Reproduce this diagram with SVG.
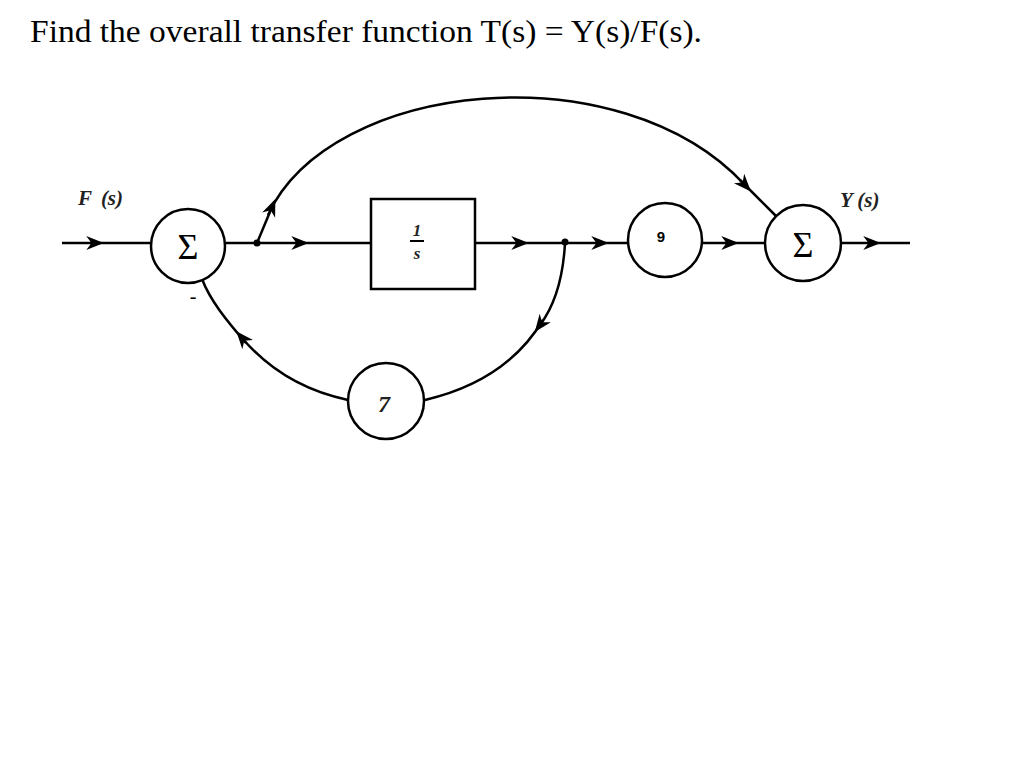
<svg xmlns="http://www.w3.org/2000/svg" width="1024" height="766" viewBox="0 0 1024 766">
<style>
.n{fill:#fff;stroke:#000;stroke-width:2.5}
.c{fill:none;stroke:#000;stroke-width:2.5}
.t{font-family:"Liberation Serif",serif;fill:#000}
.s{font-family:"Liberation Serif",serif;font-style:italic;font-weight:bold;fill:#222}
</style>
<defs>
<marker id="a" viewBox="0 0 10 10" refX="5" refY="5" markerWidth="7" markerHeight="7" orient="auto"><path d="M0,1 L10,5 L0,9 L3,5 Z" fill="#000"/></marker>
</defs>
<rect width="1024" height="766" fill="#fff"/>
<text class="t" x="30" y="42" font-size="31" textLength="672" lengthAdjust="spacingAndGlyphs">Find the overall transfer function T(s) = Y(s)/F(s).</text>
<g id="connectors">
<path class="c" d="M62,243 L95,243" marker-end="url(#a)"/><path class="c" d="M90,243 L151,243"/>
<path class="c" d="M225,243 L300,243" marker-end="url(#a)"/><path class="c" d="M295,243 L371,243"/>
<path class="c" d="M475,243 L520,243" marker-end="url(#a)"/><path class="c" d="M515,243 L600,243" marker-end="url(#a)"/><path class="c" d="M595,243 L628,243"/>
<path class="c" d="M702,243 L730,243" marker-end="url(#a)"/><path class="c" d="M725,243 L765,243"/>
<path class="c" d="M841,243 L872,243" marker-end="url(#a)"/><path class="c" d="M867,243 L910,243"/>
<path class="c" d="M257,243 L272,207" marker-end="url(#a)"/>
<path class="c" d="M268,215 C330,80 620,50 745,185" marker-end="url(#a)"/><path class="c" d="M740,180 L776,216"/>
<path class="c" d="M565,243 C563,280 555,305 540,325" marker-end="url(#a)"/>
<path class="c" d="M543,320 C510,375 455,393 425,400"/>
<path class="c" d="M348,400 C300,390 265,365 242,338" marker-end="url(#a)"/>
<path class="c" d="M246,343 C226,320 210,300 202,279"/>
<circle cx="257" cy="243" r="3.5"/>
<circle cx="565" cy="242" r="3.5"/>
</g>
<g id="sum1"><circle class="n" cx="188" cy="246" r="37"/><text class="t" x="188" y="259" font-size="36" text-anchor="middle">Σ</text></g>
<text class="t" x="193" y="303" font-size="20" text-anchor="middle">-</text>
<g id="integrator"><rect class="n" x="371" y="199" width="104" height="90"/>
<text class="s" x="417" y="236" font-size="17" text-anchor="middle">1</text><line x1="410" y1="241" x2="424" y2="241" stroke="#000" stroke-width="2"/><text class="s" x="417" y="259" font-size="17" text-anchor="middle">s</text></g>
<g id="gain9"><circle class="n" cx="665" cy="240" r="37"/><text x="661" y="242" font-size="15" font-family="Liberation Sans,sans-serif" font-weight="bold" text-anchor="middle">9</text></g>
<g id="sum2"><circle class="n" cx="803" cy="243" r="38"/><text class="t" x="803" y="257" font-size="36" text-anchor="middle">Σ</text></g>
<g id="gain7"><circle class="n" cx="386" cy="401" r="38"/><text class="s" x="384" y="412" font-size="24" text-anchor="middle">7</text></g>
<text class="s" x="78" y="205" font-size="21" word-spacing="4">F (s)</text>
<text class="s" x="840" y="207" font-size="21">Y (s)</text>
</svg>
